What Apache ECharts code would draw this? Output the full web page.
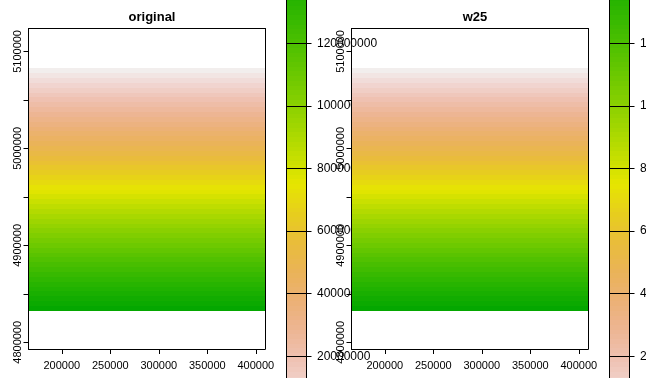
<!DOCTYPE html>
<html><head><meta charset="utf-8">
<style>html,body{margin:0;padding:0;background:#fff}#c{width:646px;height:378px}</style>
<script src="https://cdn.jsdelivr.net/npm/echarts@6/dist/echarts.min.js"></script>
</head><body><div id="c"></div>
<script>
const panelTitles = ['original', 'w25'];
const lonTicks = [200000, 250000, 300000, 350000, 400000];
const latTicks = [4800000, 4850000, 4900000, 4950000, 5000000, 5050000, 5100000];
const latLabels = [4800000, 4900000, 5000000, 5100000];
const legendTicks = [20000000, 40000000, 60000000, 80000000, 100000000, 120000000];
const rowLat = [5080000,5075000,5070000,5065000,5060000,5055000,5050000,5045000,5040000,5035000,
  5030000,5025000,5020000,5015000,5010000,5005000,5000000,4995000,4990000,4985000,
  4980000,4975000,4970000,4965000,4960000,4955000,4950000,4945000,4940000,4935000,
  4930000,4925000,4920000,4915000,4910000,4905000,4900000,4895000,4890000,4885000,
  4880000,4875000,4870000,4865000,4860000,4855000,4850000,4845000,4840000,4835000];
const originalValues = [1500000,4500000,7500000,10500000,13500000,16500000,19500000,22500000,25500000,28500000,
  31500000,34500000,37500000,40500000,43500000,46500000,49500000,52500000,55500000,58500000,
  61500000,64500000,67500000,70500000,73500000,76500000,79500000,82500000,85500000,88500000,
  91500000,94500000,97500000,100500000,103500000,106500000,109500000,112500000,115500000,118500000,
  121500000,124500000,127500000,130500000,133500000,136500000,139500000,142500000,145500000,148500000];
const w25Values = [1500000,4500000,7500000,10500000,13500000,16500000,19500000,22500000,25500000,28500000,
  31500000,34500000,37500000,40500000,43500000,46500000,49500000,52500000,55500000,58500000,
  61500000,64500000,67500000,70500000,73500000,76500000,79500000,82500000,85500000,88500000,
  91500000,94500000,97500000,100500000,103500000,106500000,109500000,112500000,115500000,118500000,
  121500000,124500000,127500000,130500000,133500000,136500000,139500000,142500000,145500000,148500000];
const legendValues = [12750000,14250000,
  15750000,17250000,18750000,20250000,21750000,23250000,24750000,26250000,27750000,29250000,
  30750000,32250000,33750000,35250000,36750000,38250000,39750000,41250000,42750000,44250000,
  45750000,47250000,48750000,50250000,51750000,53250000,54750000,56250000,57750000,59250000,
  60750000,62250000,63750000,65250000,66750000,68250000,69750000,71250000,72750000,74250000,
  75750000,77250000,78750000,80250000,81750000,83250000,84750000,86250000,87750000,89250000,
  90750000,92250000,93750000,95250000,96750000,98250000,99750000,101250000,102750000,104250000,
  105750000,107250000,108750000,110250000,111750000,113250000,114750000,116250000,117750000,119250000,
  120750000,122250000,123750000,125250000,126750000,128250000,129750000,131250000,132750000,134250000];
const ramp = ['#F2F2F2','#F1D7D3','#EFC2B3','#EDB594','#ECB176','#EAB358','#E9BD3A','#E7CE1D','#E6E600',
  '#C2DE00','#A0D600','#81CE00','#63C600','#47BE00','#2DB600','#16AE00','#00A600'];

const LON = [165700, 409600], LAT = [4793100, 5123650], VAL = [0, 150000000];
const LEGEND_VISIBLE = [13040000, 133830000];
const LAT_HALF = 2500, VAL_HALF = 750000;
const BLACK = '#000';
const FONT = 'Liberation Sans';
const plain = v => String(v);

const grids = [], xAxes = [], yAxes = [], series = [];
function band(halfH) {
  return function (params, api) {
    const a = api.coord([api.value(0), api.value(1) + halfH]);
    const b = api.coord([api.value(2), api.value(1) - halfH]);
    const y0 = Math.round(a[1]), y1 = Math.round(b[1]);
    return { type: 'rect', shape: { x: a[0], y: y0, width: b[0] - a[0], height: y1 - y0 },
      style: { fill: api.visual('color') } };
  };
}
const plainLine = { show: true, onZero: false, lineStyle: { color: BLACK, width: 1 } };
function addPanel(left, legendLeft, values) {
  const g = grids.length;
  grids.push({ left: left, top: 28.5, width: 236.6, height: 320.5, outerBoundsMode: 'none' });
  const xi = xAxes.length, yi = yAxes.length;
  xAxes.push({ gridIndex: g, type: 'value', min: LON[0], max: LON[1], position: 'bottom', z: 5,
    axisLine: plainLine, splitLine: { show: false },
    axisTick: { show: true, length: 5, customValues: lonTicks, lineStyle: { color: BLACK } },
    axisLabel: { show: true, customValues: lonTicks, margin: 11.5, fontSize: 11, fontFamily: FONT, color: BLACK, formatter: plain } });
  xAxes.push({ gridIndex: g, type: 'value', min: LON[0], max: LON[1], position: 'top', z: 5,
    axisLine: plainLine, axisTick: { show: false }, axisLabel: { show: false }, splitLine: { show: false } });
  yAxes.push({ gridIndex: g, type: 'value', min: LAT[0], max: LAT[1], position: 'left', z: 5,
    axisLine: plainLine, splitLine: { show: false },
    axisTick: { show: true, length: 5, customValues: latTicks, lineStyle: { color: BLACK } },
    axisLabel: { show: true, customValues: latLabels, rotate: 90, margin: 5, fontSize: 11, fontFamily: FONT, color: BLACK, formatter: plain } });
  yAxes.push({ gridIndex: g, type: 'value', min: LAT[0], max: LAT[1], position: 'right', z: 5,
    axisLine: plainLine, axisTick: { show: false }, axisLabel: { show: false }, splitLine: { show: false } });
  series.push({ type: 'custom', xAxisIndex: xi, yAxisIndex: yi, z: 2, silent: true, clip: true,
    renderItem: band(LAT_HALF), encode: { x: [0, 2], y: 1 }, animation: false,
    data: rowLat.map((lat, i) => [LON[0], lat, LON[1], values[i]]) });

  const lg = grids.length;
  grids.push({ left: legendLeft, top: 0, width: 20, height: 378, outerBoundsMode: 'none' });
  const lx = xAxes.length, ly = yAxes.length;
  xAxes.push({ gridIndex: lg, type: 'value', min: 0, max: 1, show: false });
  // labels sit below the raster of the next panel
  yAxes.push({ gridIndex: lg, type: 'value', min: LEGEND_VISIBLE[0], max: LEGEND_VISIBLE[1], position: 'right', z: 0,
    axisLine: { show: false }, axisTick: { show: false }, splitLine: { show: false },
    axisLabel: { show: true, customValues: legendTicks, margin: 10.5, fontSize: 12, fontFamily: FONT, color: BLACK, formatter: plain } });
  // ticks and frame of the colour bar
  yAxes.push({ gridIndex: lg, type: 'value', min: LEGEND_VISIBLE[0], max: LEGEND_VISIBLE[1], position: 'right', z: 5,
    axisLine: plainLine, axisLabel: { show: false },
    axisTick: { show: true, length: 5, customValues: legendTicks, lineStyle: { color: BLACK } },
    splitLine: { show: true, lineStyle: { color: BLACK, width: 1 }, customValues: legendTicks } });
  yAxes.push({ gridIndex: lg, type: 'value', min: LEGEND_VISIBLE[0], max: LEGEND_VISIBLE[1], position: 'left', z: 5,
    axisLine: plainLine, axisLabel: { show: false }, axisTick: { show: false }, splitLine: { show: false } });
  series.push({ type: 'custom', xAxisIndex: lx, yAxisIndex: ly, z: 2, silent: true, clip: true,
    renderItem: band(VAL_HALF), encode: { x: [0, 2], y: 1 }, animation: false,
    data: legendValues.map(v => [0, v, 1, v]) });
}
addPanel(28.5, 286.5, originalValues);
addPanel(351.5, 609.5, w25Values);

const chart = echarts.init(document.getElementById('c'), null, { renderer: 'canvas' });
chart.setOption({
  animation: false,
  backgroundColor: '#fff',
  title: [
    { text: panelTitles[0], left: 147, top: 6, textAlign: 'center', textStyle: { fontSize: 13, fontWeight: 'bold', fontFamily: FONT, color: BLACK } },
    { text: panelTitles[1], left: 470, top: 6, textAlign: 'center', textStyle: { fontSize: 13, fontWeight: 'bold', fontFamily: FONT, color: BLACK } }
  ],
  tooltip: { show: false },
  visualMap: { show: false, type: 'continuous', min: VAL[0], max: VAL[1], dimension: 3, seriesIndex: [0, 1, 2, 3],
    inRange: { color: ramp } },
  grid: grids, xAxis: xAxes, yAxis: yAxes, series: series
});
</script></body></html>
